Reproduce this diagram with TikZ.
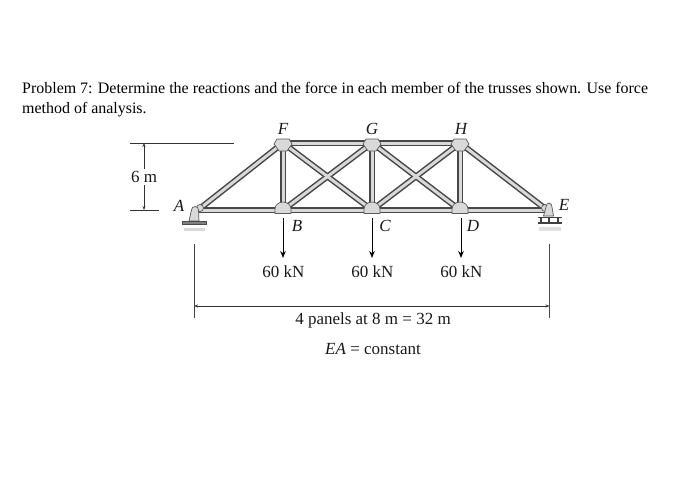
\documentclass[tikz,border=0pt]{standalone}
\usepackage{fontspec}
\setmainfont{Liberation Serif}
\usetikzlibrary{arrows.meta}
\tikzset{
  member/.style={draw=black!72,line width=6pt},
  memberin/.style={draw=black!15,line width=3pt},
  dimline/.style={draw=black!80,line width=0.8pt},
  loadarrow/.style={draw=black,line width=1pt,-{Stealth[length=7pt,width=5.5pt]}},
  dimarrow/.style={draw=black!80,line width=0.8pt,{Stealth[length=4pt,width=3pt]}-{Stealth[length=4pt,width=3pt]}},
  plate/.style={fill=black!15,draw=black!65,line width=0.7pt},
  lbl/.style={inner sep=0pt,text=black!90,font=\fontsize{17}{19}\selectfont},
  jl/.style={inner sep=0pt,text=black!90,font=\fontsize{17}{19}\selectfont\itshape},
  prose/.style={inner sep=0pt,anchor=base west,text=black,font=\fontsize{15.95}{18}\selectfont}
}
\begin{document}
\begin{tikzpicture}[x=1pt,y=-1pt]
\useasboundingbox (0,0) rectangle (700,491);
\fill[white] (0,0) rectangle (700,491);
\node[prose] (t1) at (22,93) {Problem 7: Determine the reactions and the force in each member of the trusses shown. Use force};
\node[prose] (t2) at (22,113) {method of analysis.};
% joints
\coordinate (A) at (198,210);
\coordinate (B) at (283,210);
\coordinate (C) at (372,210);
\coordinate (D) at (460,210);
\coordinate (E) at (547,210);
\coordinate (F) at (283,143);
\coordinate (G) at (372,143);
\coordinate (H) at (460,143);
% members
\foreach \p/\q in {A/B,B/C,C/D,D/E,F/G,G/H,A/F,H/E,B/F,C/G,D/H,B/G,C/F,C/H,D/G}{
  \draw[member] (\p) -- (\q);
}
\foreach \p/\q in {A/B,B/C,C/D,D/E,F/G,G/H,A/F,H/E,B/F,C/G,D/H,B/G,C/F,C/H,D/G}{
  \draw[memberin] (\p) -- (\q);
}
% gusset plates
\foreach \j in {B,C,D}{
  \draw[plate] ([xshift=-8pt,yshift=-3.5pt]\j) -- ([xshift=-8pt,yshift=1pt]\j) arc[start angle=180,end angle=0,x radius=8pt,y radius=7pt] -- ([xshift=8pt,yshift=-3.5pt]\j) -- cycle;
}
\foreach \j in {F,G,H}{
  \draw[plate] ([xshift=-6pt,yshift=4pt]\j) -- ([xshift=6pt,yshift=4pt]\j) -- ([xshift=9pt,yshift=-1pt]\j) -- ([xshift=4pt,yshift=-8pt]\j) -- ([xshift=-4pt,yshift=-8pt]\j) -- ([xshift=-9pt,yshift=-1pt]\j) -- cycle;
}
% left support
\draw[plate] (200,208) circle (3.5pt);
\draw[plate] (189,221) -- (191.5,210) arc[start angle=180,end angle=0,x radius=3.5pt,y radius=3.5pt] -- (199,221) -- cycle;
\draw[draw=black!70,fill=black!50,line width=0.5pt] (182,221) rectangle (206,224.5);
\fill[black!15] (184,228) rectangle (205,231);
% right support
\draw[plate] (545,208) circle (3.5pt);
\draw[plate] (543.5,216) -- (546,207) arc[start angle=180,end angle=0,x radius=3pt,y radius=4pt] -- (553.5,216) -- cycle;
\draw[black!75,line width=1.2pt] (538,217.5) -- (562,217.5) (538,223) -- (562,223);
\draw[black!75,line width=1.4pt] (541,217.5) -- (541,223) (549,217.5) -- (549,223) (558,217.5) -- (558,223);
\fill[black!12] (539,227) rectangle (561,231);
% height dimension
\coordinate (h1) at (130,143);
\coordinate (h2) at (234,143);
\coordinate (h3) at (130,210);
\coordinate (h4) at (159,210);
\coordinate (h5) at (144,143);
\coordinate (h6) at (144,210);
\draw[dimline] (h1) -- (h2);
\draw[dimline] (h3) -- (h4);
\draw[dimarrow] (h5) -- (h6);
\node[lbl,fill=white,inner ysep=2pt] (six) at (144,177) {6 m};
% labels
\node[jl] (la) at (179,206) {A};
\node[jl] (lb) at (297,226) {B};
\node[jl] (lc) at (385,226) {C};
\node[jl] (ld) at (473,226) {D};
\node[jl] (le) at (564,205) {E};
\node[jl] (lf) at (283,129) {F};
\node[jl] (lg) at (372,129) {G};
\node[jl] (lh) at (461,129) {H};
% loads
\coordinate (l1a) at (283,218); \coordinate (l1b) at (283,258);
\coordinate (l2a) at (372,218); \coordinate (l2b) at (372,258);
\coordinate (l3a) at (461,218); \coordinate (l3b) at (461,258);
\draw[loadarrow] (l1a) -- (l1b);
\draw[loadarrow] (l2a) -- (l2b);
\draw[loadarrow] (l3a) -- (l3b);
\node[lbl] (n1) at (283.5,272) {60 kN};
\node[lbl] (n2) at (372.5,272) {60 kN};
\node[lbl] (n3) at (461.5,272) {60 kN};
% span dimension
\coordinate (s1a) at (194,244); \coordinate (s1b) at (194,318);
\coordinate (s2a) at (549.5,244); \coordinate (s2b) at (549.5,318);
\coordinate (s3) at (194,306); \coordinate (s4) at (549.5,306);
\draw[black!75,line width=1pt] (s1a) -- (s1b);
\draw[black!70,line width=0.8pt] (s2a) -- (s2b);
\draw[dimarrow] (s3) -- (s4);
\node[lbl] (span) at (373,320) {4 panels at 8 m = 32 m};
\node[lbl] (ea) at (373,349) {\textit{EA} = constant};
\end{tikzpicture}
\end{document}
